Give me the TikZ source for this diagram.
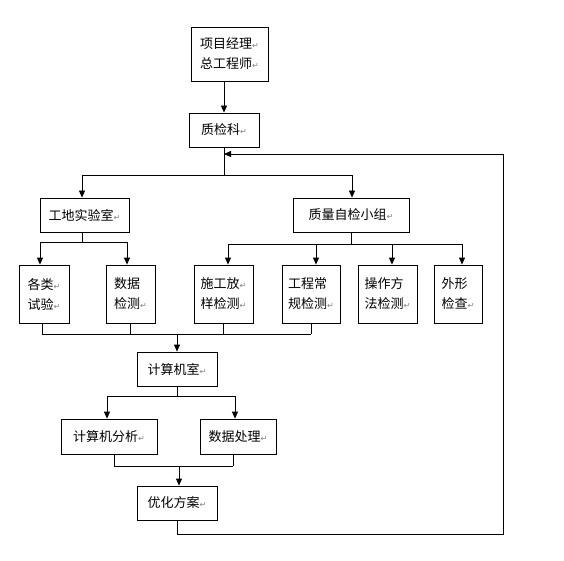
\documentclass[tikz,border=0pt]{standalone}
\usepackage{fontspec}
\newfontfamily\cjk{Noto Sans CJK SC}
\newfontfamily\dejavu{DejaVu Sans}
\usetikzlibrary{arrows.meta}
\newcommand{\parmk}{{\color{gray}\dejavu\fontsize{8}{8}\selectfont ↵}}
\tikzset{
  box/.style={draw, line width=0.8pt, inner sep=0pt, align=left,
    font=\cjk\fontsize{13}{20}\selectfont},
  ln/.style={line width=0.8pt},
  arr/.style={line width=0.8pt, -{Triangle[width=6pt,length=7pt]}},
}
\begin{document}
\begin{tikzpicture}[x=1pt,y=-1pt]
\useasboundingbox (0,0) rectangle (564,561);
% nodes
\node[box, minimum width=77pt, minimum height=54pt] (pm) at (229.5,54) {项目经理\parmk\\总工程师\parmk};
\node[box, minimum width=70pt, minimum height=34pt] (zjk) at (224,130) {质检科\parmk};
\node[box, minimum width=89pt, minimum height=34pt] (gd) at (84.5,215) {工地实验室\parmk};
\node[box, minimum width=116pt, minimum height=34pt] (zl) at (351,215) {质量自检小组\parmk};
\node[box, minimum width=50pt, minimum height=58pt] (gl) at (44,294) {各类\parmk\\试验\parmk};
\node[box, minimum width=49pt, minimum height=58pt] (sj) at (130.5,294) {数据\\检测\parmk};
\node[box, minimum width=59pt, minimum height=58pt] (sg) at (223.5,294) {施工放\parmk\\样检测\parmk};
\node[box, minimum width=58pt, minimum height=58pt] (gc) at (311,294) {工程常\\规检测\parmk};
\node[box, minimum width=59pt, minimum height=58pt] (cz) at (387.5,294) {操作方\\法检测\parmk};
\node[box, minimum width=48pt, minimum height=58pt] (wx) at (458,294) {外形\\检查\parmk};
\node[box, minimum width=80pt, minimum height=34pt] (jsj) at (177,369) {计算机室\parmk};
\node[box, minimum width=96pt, minimum height=35pt] (fx) at (109,436.5) {计算机分析\parmk};
\node[box, minimum width=76pt, minimum height=35pt] (cl) at (238,436.5) {数据处理\parmk};
\node[box, minimum width=80pt, minimum height=34pt] (yh) at (177,503) {优化方案\parmk};
% junction coordinates
\coordinate (a1) at (82,175);
\coordinate (a2) at (352,175);
\coordinate (b1) at (40,242);
\coordinate (b2) at (127,242);
\coordinate (c1) at (228,244);
\coordinate (c2) at (316,244);
\coordinate (c3) at (392,244);
\coordinate (c4) at (462,244);
\coordinate (d1) at (42,334);
\coordinate (d2) at (130,334);
\coordinate (d3) at (223,334);
\coordinate (d4) at (311,334);
\coordinate (e1) at (107,396);
\coordinate (e2) at (235,396);
\coordinate (f1) at (114,466);
\coordinate (f2) at (233,466);
\coordinate (g1) at (503,534);
\coordinate (g2) at (503,154);
% connectors
\draw[arr] (pm.south -| zjk.north) -- (zjk.north);
\draw[ln] (zjk.south) -- (zjk.south |- a1);
\draw[ln] (a1) -- (a2);
\draw[arr] (a1) -- (a1 |- gd.north);
\draw[arr] (a2) -- (a2 |- zl.north);
\draw[ln] (gd.south -| a1) -- (a1 |- b1);
\draw[ln] (b1) -- (b2);
\draw[arr] (b1) -- (b1 |- gl.north);
\draw[arr] (b2) -- (b2 |- sj.north);
\draw[ln] (zl.south) -- (zl.south |- c1);
\draw[ln] (c1) -- (c4);
\draw[arr] (c1) -- (c1 |- sg.north);
\draw[arr] (c2) -- (c2 |- gc.north);
\draw[arr] (c3) -- (c3 |- cz.north);
\draw[arr] (c4) -- (c4 |- wx.north);
\draw[ln] (gl.south -| d1) -- (d1);
\draw[ln] (sj.south -| d2) -- (d2);
\draw[ln] (sg.south -| d3) -- (d3);
\draw[ln] (gc.south -| d4) -- (d4);
\draw[ln] (d1) -- (d4);
\draw[arr] (jsj.north |- d1) -- (jsj.north);
\draw[ln] (jsj.south) -- (jsj.south |- e1);
\draw[ln] (e1) -- (e2);
\draw[arr] (e1) -- (e1 |- fx.north);
\draw[arr] (e2) -- (e2 |- cl.north);
\draw[ln] (fx.south -| f1) -- (f1);
\draw[ln] (cl.south -| f2) -- (f2);
\draw[ln] (f1) -- (f2);
\draw[arr] ([xshift=2pt]yh.north |- f1) -- ([xshift=2pt]yh.north);
\draw[ln] (yh.south) -- (yh.south |- g1) -- (g1) -- (g2);
\draw[arr] (g2) -- (g2 -| zjk.south);
\end{tikzpicture}
\end{document}
